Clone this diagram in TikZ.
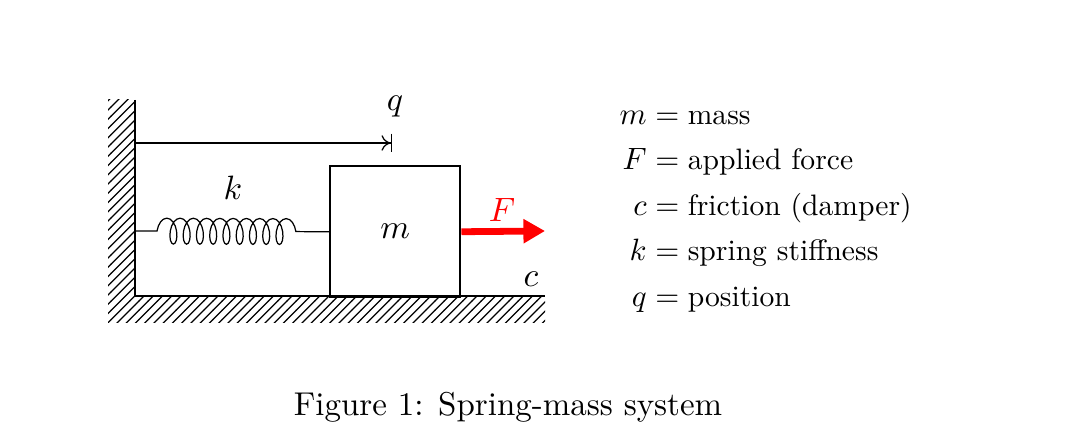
\documentclass[tikz,border=0pt]{standalone}
\usetikzlibrary{patterns,decorations.pathmorphing,arrows.meta}
\begin{document}
\begin{tikzpicture}[x=0.0114cm,y=-0.0114cm,
  hatch/.style={pattern=north east lines,draw=none},
  lbl/.style={inner sep=0pt},
  every node/.append style={font=\fontsize{10.7}{13}\selectfont}]
\useasboundingbox (0,0) rectangle (1082,440);
\fill[hatch] (108,100) rectangle (135,323);
\fill[hatch] (135,296) rectangle (545,323);
\draw (135,100) -- (135,296) -- (545,296);
\node[draw,thick,minimum width=130*0.0114cm,minimum height=131*0.0114cm,anchor=north west,inner sep=0pt] (box) at (329,165) {};
\node[lbl] (m) at (box.center) {$m$};
\coordinate (w) at (135,231);
\coordinate (wq) at (135,143);
\coordinate (qe) at (392,143);
\draw[-{>[length=3pt,width=5pt]Bar[width=6pt]}] (wq) -- (qe);
\node[lbl] (q) at (395,107) {$q$};
\draw[decorate,decoration={coil,aspect=0.5,amplitude=4.2pt,segment length=4.3pt,pre length=22*0.0114cm,post length=30*0.0114cm}] (w) -- (box.west);
\node[lbl] (k) at (233,188) {$k$};
\coordinate (fe) at (545,231);
\draw[red,line width=2.2pt,-{Triangle[length=7pt,width=7.5pt]}] (box.east) -- (fe);
\node[lbl,red] (F) at (502,210) {$F$};
\node[lbl] (c) at (531,279) {$c$};
\node[anchor=west,inner sep=0pt,font=\fontsize{9.6}{12}\selectfont] (leg) at (619,206) {\renewcommand{\arraystretch}{1.23}\begin{tabular}{@{}r@{${}={}$}l@{}}
$m$ & mass\\ $F$ & applied force\\ $c$ & friction (damper)\\ $k$ & spring stiffness\\ $q$ & position\end{tabular}};
\node[lbl] (cap) at (508,407) {Figure 1: Spring-mass system};
\end{tikzpicture}
\end{document}
